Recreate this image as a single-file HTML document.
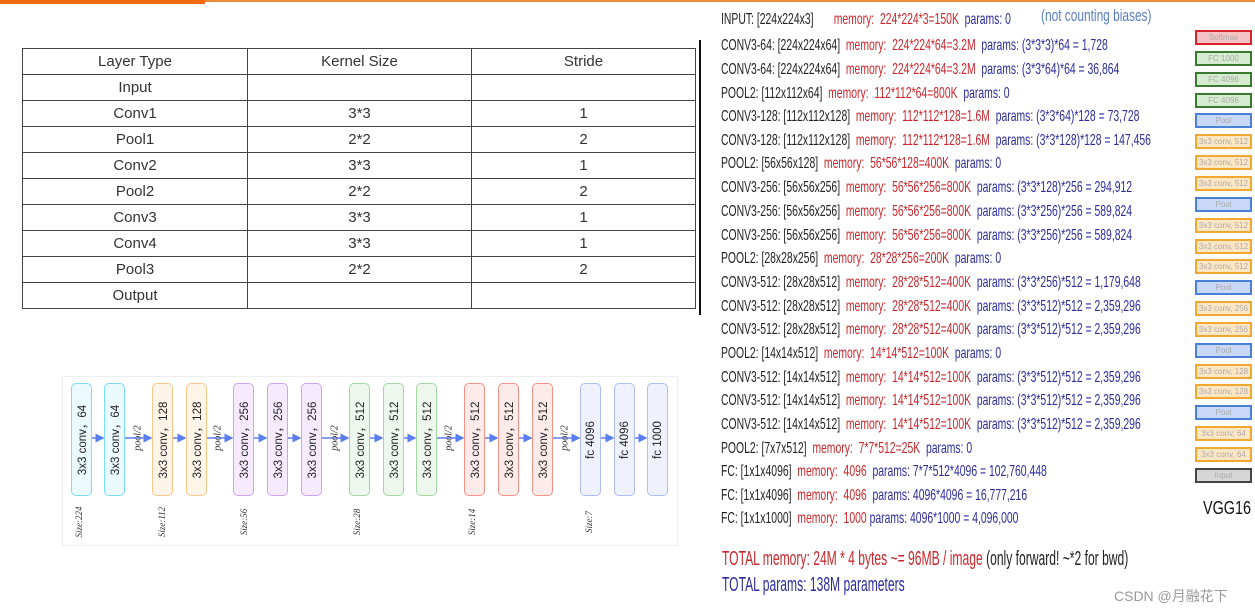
<!DOCTYPE html>
<html><head><meta charset="utf-8"><style>
body{margin:0;width:1255px;height:614px;background:#fff;position:relative;overflow:hidden;font-family:"Liberation Sans",sans-serif}
.a{position:absolute}
table{position:absolute;left:22px;top:48px;border-collapse:collapse;font-size:15px;color:#333}
td{border:1px solid #444;height:25px;padding:0;text-align:center;line-height:25px}
.ln{position:absolute;left:721px;font-size:16px;white-space:nowrap;transform:scaleX(0.65);transform-origin:0 50%;color:#222;line-height:20px}
.r{color:#c8282d}.b{color:#2c2c9c}
.box{position:absolute;top:383px;width:19px;height:111px;border:1.5px solid;border-radius:5px}
.box span{position:absolute;left:50%;top:50%;transform:translate(-50%,-50%) rotate(-90deg);white-space:nowrap;font-size:11.5px;color:#222}
.sz{position:absolute;top:522px;font-family:"Liberation Serif",serif;font-style:italic;font-size:9px;transform:translate(-50%,-50%) rotate(-90deg);color:#333;white-space:nowrap}
.pl{position:absolute;top:438px;font-family:"Liberation Serif",serif;font-style:italic;font-size:10px;transform:translate(-50%,-50%) rotate(-90deg);color:#333}
.sb{position:absolute;left:1195px;width:53px;height:11px;border:2px solid;font-size:8px;text-align:center;line-height:11px;color:#aaa}
</style></head><body>
<div class="a" style="left:0;top:0;width:205px;height:4px;background:#f26a10"></div>
<div class="a" style="left:205px;top:0;width:1050px;height:1.5px;background:#f0883a"></div>
<div class="a" style="left:699px;top:40px;width:2px;height:275px;background:#111"></div>
<table>
<tr><td style="width:224px">Layer Type</td><td style="width:223px">Kernel Size</td><td style="width:223px">Stride</td></tr>
<tr><td>Input</td><td></td><td></td></tr>
<tr><td>Conv1</td><td>3*3</td><td>1</td></tr>
<tr><td>Pool1</td><td>2*2</td><td>2</td></tr>
<tr><td>Conv2</td><td>3*3</td><td>1</td></tr>
<tr><td>Pool2</td><td>2*2</td><td>2</td></tr>
<tr><td>Conv3</td><td>3*3</td><td>1</td></tr>
<tr><td>Conv4</td><td>3*3</td><td>1</td></tr>
<tr><td>Pool3</td><td>2*2</td><td>2</td></tr>
<tr><td>Output</td><td></td><td></td></tr>
</table>

<div class="a" style="left:62px;top:376px;width:614px;height:168px;border:1px solid #eee"></div>
<svg class="a" style="left:0;top:0" width="700" height="614">
<defs><marker id="m" markerWidth="6" markerHeight="6" refX="5" refY="3" orient="auto"><path d="M0,0L6,3L0,6z" fill="#5a7ef0"/></marker></defs>
<g stroke="#5a7ef0" stroke-width="1.5" marker-end="url(#m)">
<line x1="92" y1="438" x2="103" y2="438"/><line x1="125" y1="438" x2="151" y2="438"/>
<line x1="173" y1="438" x2="185" y2="438"/><line x1="207" y1="438" x2="232" y2="438"/>
<line x1="254" y1="438" x2="266" y2="438"/><line x1="288" y1="438" x2="300" y2="438"/>
<line x1="322" y1="438" x2="348" y2="438"/><line x1="370" y1="438" x2="382" y2="438"/>
<line x1="404" y1="438" x2="415" y2="438"/><line x1="437" y1="438" x2="463" y2="438"/>
<line x1="485" y1="438" x2="497" y2="438"/><line x1="519" y1="438" x2="531" y2="438"/>
<line x1="553" y1="438" x2="579" y2="438"/><line x1="601" y1="438" x2="613" y2="438"/>
<line x1="635" y1="438" x2="646" y2="438"/>
</g></svg>
<div class="box" style="left:71px;border-color:#7edcf4;background:#eafafe"><span>3x3 conv，64</span></div>
<div class="box" style="left:104px;border-color:#7edcf4;background:#eafafe"><span>3x3 conv，64</span></div>
<div class="box" style="left:152px;border-color:#f9c98c;background:#fff4e8"><span>3x3 conv，128</span></div>
<div class="box" style="left:186px;border-color:#f9c98c;background:#fff4e8"><span>3x3 conv，128</span></div>
<div class="box" style="left:233px;border-color:#cda4f2;background:#f5ebfd"><span>3x3 conv，256</span></div>
<div class="box" style="left:267px;border-color:#cda4f2;background:#f5ebfd"><span>3x3 conv，256</span></div>
<div class="box" style="left:301px;border-color:#cda4f2;background:#f5ebfd"><span>3x3 conv，256</span></div>
<div class="box" style="left:349px;border-color:#a3d8a5;background:#edf7ed"><span>3x3 conv，512</span></div>
<div class="box" style="left:383px;border-color:#a3d8a5;background:#edf7ed"><span>3x3 conv，512</span></div>
<div class="box" style="left:416px;border-color:#a3d8a5;background:#edf7ed"><span>3x3 conv，512</span></div>
<div class="box" style="left:464px;border-color:#f29288;background:#fdebea"><span>3x3 conv，512</span></div>
<div class="box" style="left:498px;border-color:#f29288;background:#fdebea"><span>3x3 conv，512</span></div>
<div class="box" style="left:532px;border-color:#f29288;background:#fdebea"><span>3x3 conv，512</span></div>
<div class="box" style="left:580px;border-color:#aebdf2;background:#eff2fd"><span>fc 4096</span></div>
<div class="box" style="left:614px;border-color:#aebdf2;background:#eff2fd"><span>fc 4096</span></div>
<div class="box" style="left:647px;border-color:#aebdf2;background:#eff2fd"><span>fc 1000</span></div>
<div class="pl" style="left:138px">pool/2</div><div class="pl" style="left:218px">pool/2</div>
<div class="pl" style="left:335px">pool/2</div><div class="pl" style="left:449px">pool/2</div>
<div class="pl" style="left:565px">pool/2</div>
<div class="sz" style="left:79px">Size:224</div><div class="sz" style="left:162px">Size:112</div>
<div class="sz" style="left:244px">Size:56</div><div class="sz" style="left:357px">Size:28</div>
<div class="sz" style="left:472px">Size:14</div><div class="sz" style="left:589px">Size:7</div>

<div class="ln" style="top:10px">INPUT: [224x224x3]&nbsp;&nbsp;&nbsp;&nbsp;&nbsp;&nbsp; <span class="r">memory:&nbsp; 224*224*3=150K</span>&nbsp; <span class="b">params: 0</span></div>
<div class="a" style="left:1041px;top:6px;font-size:17px;color:#5a7fc0;transform:scaleX(0.7);transform-origin:0 0;white-space:nowrap">(not counting biases)</div>
<div class="ln" style="top:36px">CONV3-64: [224x224x64]&nbsp; <span class="r">memory:&nbsp; 224*224*64=3.2M</span>&nbsp; <span class="b">params: (3*3*3)*64 = 1,728</span></div>
<div class="ln" style="top:60px">CONV3-64: [224x224x64]&nbsp; <span class="r">memory:&nbsp; 224*224*64=3.2M</span>&nbsp; <span class="b">params: (3*3*64)*64 = 36,864</span></div>
<div class="ln" style="top:84px">POOL2: [112x112x64]&nbsp; <span class="r">memory:&nbsp; 112*112*64=800K</span>&nbsp; <span class="b">params: 0</span></div>
<div class="ln" style="top:107px">CONV3-128: [112x112x128]&nbsp; <span class="r">memory:&nbsp; 112*112*128=1.6M</span>&nbsp; <span class="b">params: (3*3*64)*128 = 73,728</span></div>
<div class="ln" style="top:131px">CONV3-128: [112x112x128]&nbsp; <span class="r">memory:&nbsp; 112*112*128=1.6M</span>&nbsp; <span class="b">params: (3*3*128)*128 = 147,456</span></div>
<div class="ln" style="top:154px">POOL2: [56x56x128]&nbsp; <span class="r">memory:&nbsp; 56*56*128=400K</span>&nbsp; <span class="b">params: 0</span></div>
<div class="ln" style="top:178px">CONV3-256: [56x56x256]&nbsp; <span class="r">memory:&nbsp; 56*56*256=800K</span>&nbsp; <span class="b">params: (3*3*128)*256 = 294,912</span></div>
<div class="ln" style="top:202px">CONV3-256: [56x56x256]&nbsp; <span class="r">memory:&nbsp; 56*56*256=800K</span>&nbsp; <span class="b">params: (3*3*256)*256 = 589,824</span></div>
<div class="ln" style="top:226px">CONV3-256: [56x56x256]&nbsp; <span class="r">memory:&nbsp; 56*56*256=800K</span>&nbsp; <span class="b">params: (3*3*256)*256 = 589,824</span></div>
<div class="ln" style="top:249px">POOL2: [28x28x256]&nbsp; <span class="r">memory:&nbsp; 28*28*256=200K</span>&nbsp; <span class="b">params: 0</span></div>
<div class="ln" style="top:273px">CONV3-512: [28x28x512]&nbsp; <span class="r">memory:&nbsp; 28*28*512=400K</span>&nbsp; <span class="b">params: (3*3*256)*512 = 1,179,648</span></div>
<div class="ln" style="top:297px">CONV3-512: [28x28x512]&nbsp; <span class="r">memory:&nbsp; 28*28*512=400K</span>&nbsp; <span class="b">params: (3*3*512)*512 = 2,359,296</span></div>
<div class="ln" style="top:320px">CONV3-512: [28x28x512]&nbsp; <span class="r">memory:&nbsp; 28*28*512=400K</span>&nbsp; <span class="b">params: (3*3*512)*512 = 2,359,296</span></div>
<div class="ln" style="top:344px">POOL2: [14x14x512]&nbsp; <span class="r">memory:&nbsp; 14*14*512=100K</span>&nbsp; <span class="b">params: 0</span></div>
<div class="ln" style="top:368px">CONV3-512: [14x14x512]&nbsp; <span class="r">memory:&nbsp; 14*14*512=100K</span>&nbsp; <span class="b">params: (3*3*512)*512 = 2,359,296</span></div>
<div class="ln" style="top:391px">CONV3-512: [14x14x512]&nbsp; <span class="r">memory:&nbsp; 14*14*512=100K</span>&nbsp; <span class="b">params: (3*3*512)*512 = 2,359,296</span></div>
<div class="ln" style="top:415px">CONV3-512: [14x14x512]&nbsp; <span class="r">memory:&nbsp; 14*14*512=100K</span>&nbsp; <span class="b">params: (3*3*512)*512 = 2,359,296</span></div>
<div class="ln" style="top:439px">POOL2: [7x7x512]&nbsp; <span class="r">memory:&nbsp; 7*7*512=25K</span>&nbsp; <span class="b">params: 0</span></div>
<div class="ln" style="top:462px">FC: [1x1x4096]&nbsp; <span class="r">memory:&nbsp; 4096</span>&nbsp; <span class="b">params: 7*7*512*4096 = 102,760,448</span></div>
<div class="ln" style="top:486px">FC: [1x1x4096]&nbsp; <span class="r">memory:&nbsp; 4096</span>&nbsp; <span class="b">params: 4096*4096 = 16,777,216</span></div>
<div class="ln" style="top:509px">FC: [1x1x1000]&nbsp; <span class="r">memory:&nbsp; 1000</span> <span class="b">params: 4096*1000 = 4,096,000</span></div>
<div class="ln" style="top:547px;left:722px;font-size:20px;line-height:24px;transform:scaleX(0.605)"><span class="r">TOTAL memory: 24M * 4 bytes ~= 96MB / image</span> (only forward! ~*2 for bwd)</div>
<div class="ln" style="top:573px;left:722px;font-size:20px;line-height:24px;transform:scaleX(0.605)"><span class="b">TOTAL params: 138M parameters</span></div>
<div class="a" style="left:1114px;top:586px;font-size:14px;color:#999;font-family:'Liberation Sans','Noto Sans CJK SC',sans-serif">CSDN @月融花下</div>
<div class="a" style="left:1203px;top:498px;font-size:18px;color:#111;transform:scaleX(0.8);transform-origin:0 0">VGG16</div>

<div class="sb" style="top:30px;border-color:#d8232a;background:#f6c4c4">Softmax</div>
<div class="sb" style="top:51px;border-color:#3a7a30;background:#d6ecd0">FC 1000</div>
<div class="sb" style="top:72px;border-color:#3a7a30;background:#d6ecd0">FC 4096</div>
<div class="sb" style="top:93px;border-color:#3a7a30;background:#d6ecd0">FC 4096</div>
<div class="sb" style="top:113px;border-color:#4a80d8;background:#c9d8f6">Pool</div>
<div class="sb" style="top:134px;border-color:#f0a830;background:#fde6c4">3x3 conv, 512</div>
<div class="sb" style="top:155px;border-color:#f0a830;background:#fde6c4">3x3 conv, 512</div>
<div class="sb" style="top:176px;border-color:#f0a830;background:#fde6c4">3x3 conv, 512</div>
<div class="sb" style="top:197px;border-color:#4a80d8;background:#c9d8f6">Pool</div>
<div class="sb" style="top:218px;border-color:#f0a830;background:#fde6c4">3x3 conv, 512</div>
<div class="sb" style="top:239px;border-color:#f0a830;background:#fde6c4">3x3 conv, 512</div>
<div class="sb" style="top:259px;border-color:#f0a830;background:#fde6c4">3x3 conv, 512</div>
<div class="sb" style="top:280px;border-color:#4a80d8;background:#c9d8f6">Pool</div>
<div class="sb" style="top:301px;border-color:#f0a830;background:#fde6c4">3x3 conv, 256</div>
<div class="sb" style="top:322px;border-color:#f0a830;background:#fde6c4">3x3 conv, 256</div>
<div class="sb" style="top:343px;border-color:#4a80d8;background:#c9d8f6">Pool</div>
<div class="sb" style="top:364px;border-color:#f0a830;background:#fde6c4">3x3 conv, 128</div>
<div class="sb" style="top:384px;border-color:#f0a830;background:#fde6c4">3x3 conv, 128</div>
<div class="sb" style="top:405px;border-color:#4a80d8;background:#c9d8f6">Pool</div>
<div class="sb" style="top:426px;border-color:#f0a830;background:#fde6c4">3x3 conv, 64</div>
<div class="sb" style="top:447px;border-color:#f0a830;background:#fde6c4">3x3 conv, 64</div>
<div class="sb" style="top:468px;border-color:#444;background:#d6d6d6">Input</div>
</body></html>
